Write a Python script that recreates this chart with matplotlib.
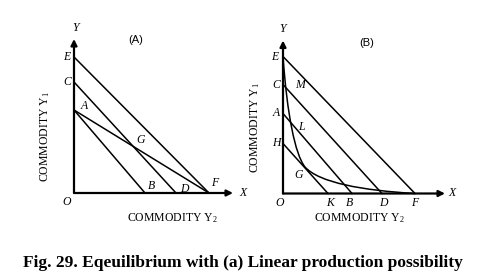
import matplotlib
matplotlib.use('Agg')
import matplotlib.pyplot as plt
from matplotlib.path import Path
from matplotlib.patches import PathPatch

# Panel A intercepts (axis units)
a_yint = {'E': 136, 'C': 111, 'A': 83}
a_xint = {'F': 135, 'D': 102, 'B': 71}
a_lines = [('E', 'F'), ('C', 'D'), ('A', 'B'), ('A', 'F')]

# Panel B intercepts
b_yint = {'E': 137, 'C': 109, 'A': 80, 'H': 50}
b_xint = {'F': 132, 'D': 99, 'B': 69, 'K': 45}
b_lines = [('E', 'F'), ('C', 'D'), ('A', 'B'), ('H', 'K')]

# production possibility curve in panel B (cubic bezier control points)
curve_pts = [(0, 137), (4, 80), (12, 39), (22, 26.5),
             (36, 10.8), (80, 3), (132, 0)]

plt.rcParams['mathtext.fontset'] = 'custom'
plt.rcParams['mathtext.rm'] = 'Liberation Serif'
plt.rcParams['mathtext.it'] = 'Liberation Serif:italic'

W, H = 480, 279
fig = plt.figure(figsize=(W / 100, H / 100), dpi=100)

serif = 'Liberation Serif'
lab = dict(family=serif, style='italic', fontsize=8.5, ha='center', va='center')


def make_ax(ox, oy):
    # axes in which one unit is one pixel, origin at pixel (ox, oy)
    x0, x1, y0, y1 = ox - 60, ox + 185, oy - 215, oy + 40
    ax = fig.add_axes([x0 / W, 1 - y1 / H, (x1 - x0) / W, (y1 - y0) / H])
    ax.set_xlim(x0 - ox, x1 - ox)
    ax.set_ylim(oy - y1, oy - y0)
    ax.axis('off')
    return ax


def draw_axes(ax, xtip, ytip):
    ap = dict(arrowstyle='-|>', color='black', lw=1.6, mutation_scale=9,
              shrinkA=0, shrinkB=0)
    ax.annotate('', xy=(xtip, 0), xytext=(0, 0), arrowprops=ap)
    ax.annotate('', xy=(0, ytip), xytext=(0, 0), arrowprops=ap)


y1_label = r'COMMODITY Y$_\mathrm{1}$'
y2_label = r'COMMODITY Y$_\mathrm{2}$'

# ---------- panel A
axA = make_ax(74, 193)
draw_axes(axA, 159, 154)
for p, q in a_lines:
    axA.plot([0, a_xint[q]], [a_yint[p], 0], color='black', lw=1.1)

axA.text(2, 165, 'Y', **lab)
axA.text(62, 153, '(A)', family='Liberation Sans', fontsize=8, ha='center', va='center')
axA.text(-7, 136, 'E', **lab)
axA.text(-7, 111, 'C', **lab)
axA.text(10, 87, 'A', **lab)
axA.text(67, 53, 'G', **lab)
axA.text(77, 7, 'B', **lab)
axA.text(110, 4, 'D', **lab)
axA.text(141, 10, 'F', **lab)
axA.text(-7, -9, 'O', **lab)
axA.text(169, 0, 'X', **lab)
axA.text(-29, 56, y1_label, family=serif, fontsize=8.5, rotation=90,
         ha='center', va='center')
axA.text(98, -25, y2_label, family=serif, fontsize=8.5,
         ha='center', va='center')

# ---------- panel B
axB = make_ax(283, 193.5)
draw_axes(axB, 162, 153)
for p, q in b_lines:
    axB.plot([0, b_xint[q]], [b_yint[p], 0], color='black', lw=1.1)

codes = [Path.MOVETO] + [Path.CURVE4] * 6
axB.add_patch(PathPatch(Path(curve_pts, codes), fill=False, ec='black', lw=1.1))

axB.text(0, 165, 'Y', **lab)
axB.text(84, 150, '(B)', family='Liberation Sans', fontsize=8, ha='center', va='center')
axB.text(-8, 136, 'E', **lab)
axB.text(-7, 109, 'C', **lab)
axB.text(17, 108, 'M', **lab)
axB.text(-7, 80, 'A', **lab)
axB.text(18, 67, 'L', **lab)
axB.text(-7, 50, 'H', **lab)
axB.text(16, 18, 'G', **lab)
axB.text(-3, -10, 'O', **lab)
axB.text(47, -10, 'K', **lab)
axB.text(66, -10, 'B', **lab)
axB.text(100, -10, 'D', **lab)
axB.text(132, -10, 'F', **lab)
axB.text(169, 0, 'X', **lab)
axB.text(-28, 66, y1_label, family=serif, fontsize=8.5, rotation=90,
         ha='center', va='center')
axB.text(76, -25, y2_label, family=serif, fontsize=8.5,
         ha='center', va='center')

fig.text(243 / W, 1 - 263 / H, 'Fig. 29. Eqeuilibrium with (a) Linear production possibility',
         family=serif, weight='bold', fontsize=12.5, ha='center', va='center')

fig.savefig('out.png', dpi=100, facecolor='white')
